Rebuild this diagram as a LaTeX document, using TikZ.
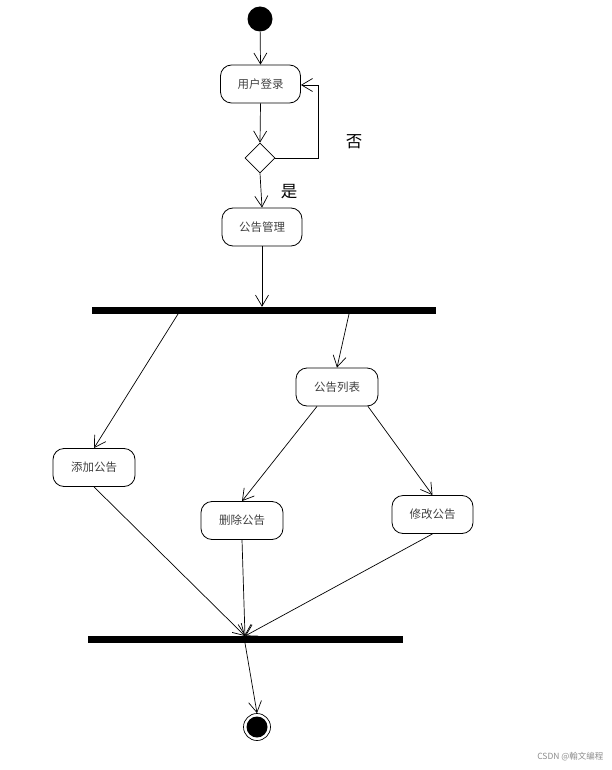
\documentclass[tikz,border=0pt]{standalone}
\usepackage{fontspec}
\newfontfamily\cjk{Noto Sans CJK SC}
\usetikzlibrary{arrows.meta,shapes.geometric}
\begin{document}
\begin{tikzpicture}[x=1pt,y=-1pt,
  act/.style={draw,rounded corners=11pt,line width=0.8pt,minimum width=80pt,minimum height=38pt,inner sep=0pt,font=\cjk\fontsize{11.5}{13}\selectfont,text=black!75},
  bar/.style={fill=black,draw=none,inner sep=0pt},
  flow/.style={line width=0.7pt,-{Straight Barb[length=11pt,width=13pt,line width=0.7pt]}},
  plain/.style={line width=0.7pt}]
\useasboundingbox (0,0) rectangle (612,770);
% start
\node[circle,fill=black,minimum size=25pt,inner sep=0pt] (start) at (260,19) {};
\node[act] (login) at (260.5,84) {用户登录};
\node[diamond,draw,line width=0.7pt,minimum width=30pt,minimum height=30pt,inner sep=0pt] (dec) at (260,158) {};
\node[act] (mgmt) at (262,227) {公告管理};
\node[bar,minimum width=344pt,minimum height=7pt] (fork) at (263.5,310.5) {};
\node[act,minimum width=82pt] (add) at (94,467.5) {添加公告};
\node[act,minimum width=82pt] (list) at (337,387) {公告列表};
\node[act,minimum width=82pt] (del) at (242,520.5) {删除公告};
\node[act,minimum width=81pt] (mod) at (432.5,514.5) {修改公告};
\node[bar,minimum width=315pt,minimum height=7pt] (join) at (245.5,639.5) {};
\node[circle,draw,line width=0.7pt,minimum size=27pt,inner sep=0pt] (end) at (257,727) {};
\node[circle,fill=black,minimum size=21pt,inner sep=0pt] (endin) at (257,727) {};
% labels
\node[font=\cjk\fontsize{16.5}{18}\selectfont] (no) at (354,142) {否};
\node[font=\cjk\fontsize{16.5}{18}\selectfont] (yes) at (289,192) {是};
\node[font=\cjk\fontsize{8.5}{10}\selectfont,text=black!45,anchor=east] (wm) at (607,757) {CSDN @翰文编程};
% coordinates
\coordinate (f1) at (178,314);
\coordinate (f2) at (349,314);
\coordinate (jin) at (245,636);
\coordinate (jout) at (245,643);
% connectors
\draw[flow] (start) -- (login.south |- login.north);
\draw[flow] (login.south) -- (dec.north);
\draw[flow] (dec.east) -- (318,158) -- (318,85) -- (login.east |- 0,85);
\draw[flow] (dec.south) -- (mgmt.north);
\draw[flow] (mgmt.south) -- (fork.north -| mgmt.south);
\draw[flow] (f1) -- (add.north);
\draw[flow] (f2) -- (list.north);
\draw[flow] ([xshift=-20pt]list.south) -- (del.north);
\draw[flow] ([xshift=31pt]list.south) -- (mod.north);
\draw[flow] (add.south) -- (jin);
\draw[flow] (del.south) -- (jin);
\draw[flow] (mod.south) -- (jin);
\draw[flow] (jout) -- (end.north);
\end{tikzpicture}
\end{document}
